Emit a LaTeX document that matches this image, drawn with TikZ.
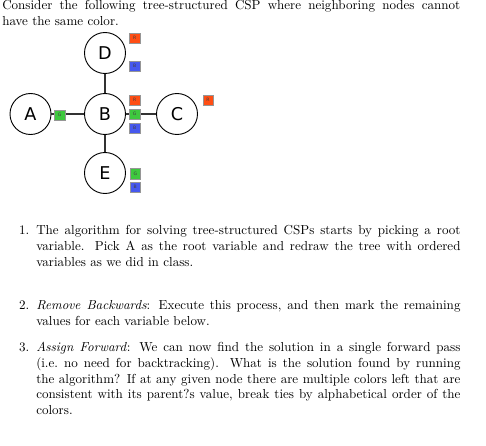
\documentclass[tikz,border=0pt]{standalone}
\usepackage{fontspec}
\newfontfamily\nodefont{DejaVu Sans}
\definecolor{valR}{RGB}{255,78,20}
\definecolor{valG}{RGB}{62,200,62}
\definecolor{valB}{RGB}{70,88,238}
\definecolor{valEdge}{RGB}{150,150,150}
\begin{document}
\begin{tikzpicture}[x=0.766pt,y=-0.766pt,
  var/.style={circle, draw=black, line width=0.7pt, minimum size=31.4pt, inner sep=0pt,
    font=\nodefont\fontsize{13.5}{14}\selectfont},
  val/.style={draw=valEdge, line width=0.4pt, minimum width=8pt, minimum height=7.8pt, inner sep=0pt,
    font=\nodefont\fontsize{3.5}{4}\selectfont, text=black!75},
  edge/.style={line width=0.8pt, draw=black!80},
  txt/.style={anchor=base west, inner sep=0pt, font=\fontsize{10}{12}\selectfont},
  lbl/.style={anchor=base east, inner sep=0pt, font=\fontsize{10}{12}\selectfont}]
\useasboundingbox (0,0) rectangle (486,446);

% text
\node[txt] (p0) at (2,10) {\parbox[t]{350.8pt}{Consider the following tree-structured CSP where neighboring nodes cannot\linebreak have the same color.}};

\node[lbl] (l1) at (29.5,235) {1.};
\node[txt] (t1) at (36,235) {\parbox[t]{325pt}{The algorithm for solving tree-structured CSPs starts by picking a root variable.  Pick A as the root variable and redraw the tree with ordered variables as we did in class.}};

\node[lbl] (l2) at (29.5,310) {2.};
\node[txt] (t2) at (36,310) {\parbox[t]{325pt}{\textit{Remove Backwards}: Execute this process, and then mark the remaining values for each variable below.}};

\node[lbl] (l3) at (29.5,351.7) {3.};
\node[txt] (t3) at (36,351.7) {\parbox[t]{325pt}{\textit{Assign Forward}: We can now find the solution in a single forward pass (i.e.\ no need for backtracking).  What is the solution found by running the algorithm? If at any given node there are multiple colors left that are consistent with its parent?s value, break ties by alphabetical order of the colors.}};

% variables
\node[var] (A) at (30.5,114) {A};
\node[var] (B) at (105,114) {B};
\node[var] (C) at (177,114) {C};
\node[var] (D) at (105,53) {D};
\node[var] (E) at (105,173) {E};

% constraints
\draw[edge] (A) -- (B);
\draw[edge] (B) -- (C);
\draw[edge] (D) -- (B);
\draw[edge] (B) -- (E);

% domains
\node[val, fill=valR] (DR) at (134.7,38.3) {R};
\node[val, fill=valB] (DB) at (134.7,66) {B};
\node[val, fill=valR] (BR) at (134.7,100.3) {R};
\node[val, fill=valG] (BG) at (134.7,114.3) {G};
\node[val, fill=valB] (BB) at (134.7,128) {B};
\node[val, fill=valG] (AG) at (59.7,115) {G};
\node[val, fill=valR] (CR) at (208,100.3) {R};
\node[val, fill=valG] (EG) at (135.3,173.7) {G};
\node[val, fill=valB] (EB) at (135.3,187) {B};
\end{tikzpicture}
\end{document}
